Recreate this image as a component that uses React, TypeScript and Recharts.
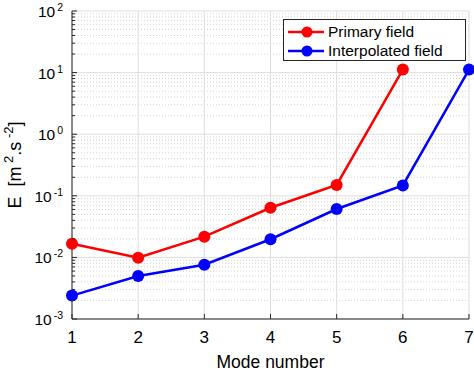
import React from 'react';
import { LineChart, Line, XAxis, YAxis, CartesianGrid } from 'recharts';

const modes = [1, 2, 3, 4, 5, 6, 7];
const primaryField = [0.0166, 0.0099, 0.0217, 0.064, 0.15, 11.2];
const interpolatedField = [0.0024, 0.005, 0.0076, 0.0197, 0.061, 0.147, 11.2];
const decadeTicks = [0.001, 0.01, 0.1, 1, 10, 100];
const decadeExp = [-3, -2, -1, 0, 1, 2];

const minorTicks: number[] = [];
decadeTicks.slice(0, -1).forEach((d) => {
  for (let k = 2; k <= 9; k++) minorTicks.push(+(d * k).toPrecision(3));
});
const allYTicks = [...decadeTicks, ...minorTicks].sort((a, b) => a - b);

const data = modes.map((m, i) => ({
  mode: m,
  primary: primaryField[i],
  interp: interpolatedField[i],
}));

const FONT = '"Liberation Sans", Arial, sans-serif';
const AX = '#262626';

const isMajor = (v: number) => decadeTicks.some((d) => Math.abs(d - v) / d < 1e-6);

const LeftTick = (props: any) => {
  const { x, y, payload } = props;
  const v = payload.value;
  const ax = x + 6;
  const major = isMajor(v);
  const idx = decadeTicks.findIndex((d) => Math.abs(d - v) / d < 1e-6);
  return (
    <g>
      <line x1={ax} x2={ax + (major ? 5 : 3)} y1={y} y2={y} stroke={AX} strokeWidth={1} />
      {major && (
        <text x={x - 3} y={y + 6} textAnchor="end" fontFamily={FONT} fontSize={15.5} fill="#000">
          <tspan>10</tspan>
          <tspan dx={2} dy={-6} fontSize={10.5}>{decadeExp[idx]}</tspan>
        </text>
      )}
    </g>
  );
};

const RightTick = (props: any) => {
  const { x, y, payload } = props;
  const major = isMajor(payload.value);
  return <line x1={x} x2={x - (major ? 5 : 3)} y1={y} y2={y} stroke={AX} strokeWidth={1} />;
};

const BottomTick = (props: any) => {
  const { x, y, payload } = props;
  const ay = y - 8;
  return (
    <g>
      <line x1={x} x2={x} y1={ay} y2={ay - 5} stroke={AX} strokeWidth={1} />
      <text x={x} y={y + 16} textAnchor="middle" fontFamily={FONT} fontSize={17} fill="#000">
        {payload.value}
      </text>
    </g>
  );
};

const TopTick = (props: any) => {
  const { x, y } = props;
  return <line x1={x} x2={x} y1={y} y2={y + 5} stroke={AX} strokeWidth={1} />;
};

const legendItems = [
  { label: 'Primary field', color: '#ff0000' },
  { label: 'Interpolated field', color: '#0000ff' },
];

const LegendBox = () => (
  <div
    style={{
      position: 'absolute',
      left: 283,
      top: 19,
      border: `1px solid ${AX}`,
      background: '#fff',
      width: 183,
      height: 42,
      boxSizing: 'border-box',
      padding: '2px 0 0 3px',
      fontFamily: FONT,
      fontSize: 15.5,
      color: '#000',
    }}
  >
    {legendItems.map((it) => (
      <div key={it.label} style={{ display: 'flex', alignItems: 'center', height: 19 }}>
        <svg width={38} height={14}>
          <line x1={1} x2={37} y1={7} y2={7} stroke={it.color} strokeWidth={2.5} />
          <circle cx={20} cy={7} r={5.5} fill={it.color} />
        </svg>
        <span style={{ marginLeft: 3, lineHeight: '19px' }}>{it.label}</span>
      </div>
    ))}
  </div>
);

export default function App() {
  return (
    <div style={{ position: 'absolute', left: 0, top: 0, width: 474, height: 371, background: '#fff' }}>
      <LineChart width={474} height={371} data={data} margin={{ top: 11, right: 5, bottom: 0, left: 0 }}>
        <CartesianGrid
          yAxisId="left"
          horizontalValues={minorTicks}
          vertical={false}
          stroke="#d4d4d4"
          strokeDasharray="1 2"
        />
        <CartesianGrid
          yAxisId="left"
          horizontalValues={decadeTicks}
          verticalValues={modes}
          stroke="#dedede"
        />
        <XAxis
          dataKey="mode"
          type="number"
          domain={[1, 7]}
          ticks={modes}
          interval={0}
          tickLine={false}
          tickSize={0}
          tickMargin={8}
          height={52}
          stroke={AX}
          tick={<BottomTick />}
          label={{ value: 'Mode number', position: 'insideBottom', offset: 3, fontFamily: FONT, fontSize: 17.5, fill: '#000' }}
        />
        <XAxis
          xAxisId="top"
          orientation="top"
          dataKey="mode"
          type="number"
          domain={[1, 7]}
          ticks={modes}
          interval={0}
          tickLine={false}
          tickSize={0}
          tickMargin={0}
          height={0}
          stroke={AX}
          tick={<TopTick />}
        />
        <YAxis
          yAxisId="left"
          scale="log"
          type="number"
          domain={[0.001, 100]}
          ticks={allYTicks}
          interval={0}
          allowDataOverflow
          tickLine={false}
          tickSize={0}
          tickMargin={6}
          width={72}
          stroke={AX}
          tick={<LeftTick />}
        />
        <YAxis
          yAxisId="right"
          orientation="right"
          scale="log"
          type="number"
          domain={[0.001, 100]}
          ticks={allYTicks}
          interval={0}
          allowDataOverflow
          tickLine={false}
          tickSize={0}
          tickMargin={0}
          width={0}
          stroke={AX}
          tick={<RightTick />}
        />
        <Line
          yAxisId="left"
          dataKey="primary"
          stroke="#ff0000"
          strokeWidth={2.5}
          dot={{ r: 6, fill: '#ff0000', stroke: '#ff0000', strokeWidth: 0 }}
          isAnimationActive={false}
          connectNulls={false}
        />
        <Line
          yAxisId="left"
          dataKey="interp"
          stroke="#0000ff"
          strokeWidth={2.5}
          dot={{ r: 6, fill: '#0000ff', stroke: '#0000ff', strokeWidth: 0 }}
          isAnimationActive={false}
        />
      </LineChart>
      <LegendBox />
      <div
        style={{
          position: 'absolute',
          left: 15,
          top: 165,
          transform: 'translate(-50%, -50%) rotate(-90deg)',
          whiteSpace: 'nowrap',
          fontFamily: FONT,
          fontSize: 18,
          color: '#000',
        }}
      >
        E&nbsp;&nbsp;[m<sup style={{ fontSize: 13, verticalAlign: '0.55em', lineHeight: 0 }}>&nbsp;2</sup>.s<sup style={{ fontSize: 13, verticalAlign: '0.55em', lineHeight: 0 }}>&nbsp;-2</sup>]
      </div>
    </div>
  );
}
